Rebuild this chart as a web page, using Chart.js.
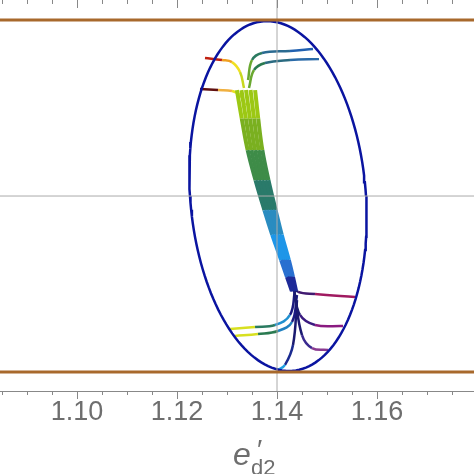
<!DOCTYPE html>
<html><head><meta charset="UTF-8">
<script src="https://cdn.jsdelivr.net/npm/chart.js@4.4.0/dist/chart.umd.min.js"></script>
<style>html,body{margin:0;background:#fff}#c{width:474px;height:474px}</style>
</head><body>
<div id="c"><canvas id="chart"></canvas></div>
<script>
// ---- data ----
const xRange = [1.0846, 1.1794];
const yRange = [-1.108, 1.114];
const xTickLabels = [1.10, 1.12, 1.14, 1.16];
const boundLevels = [1, -1];
const crossX = 1.14, crossY = 0;

const branchTopA = { x: [1.1256, 1.1290, 1.1310, 1.1326, 1.1334], y: [0.784, 0.773, 0.761, 0.705, 0.614] };
const branchTopB = { x: [1.1246, 1.1282, 1.1310, 1.1326, 1.1336], y: [0.608, 0.602, 0.597, 0.574, 0.517] };
const branchTopC = { x: [1.1472, 1.1426, 1.1370, 1.1350, 1.1342], y: [0.835, 0.824, 0.813, 0.773, 0.659] };
const branchTopD = { x: [1.1484, 1.1426, 1.1376, 1.1354, 1.1344], y: [0.778, 0.773, 0.756, 0.716, 0.614] };
const bandX = [1.1338, 1.1346, 1.1356, 1.1370, 1.1386, 1.1400, 1.1416, 1.1426, 1.1434];
const bandY = [0.602, 0.440, 0.261, 0.090, -0.080, -0.220, -0.364, -0.460, -0.540];
const branchBotE = { x: [1.1430, 1.1442, 1.1476, 1.1556], y: [-0.506, -0.545, -0.557, -0.574] };
const branchBotF = { x: [1.1434, 1.1446, 1.1476, 1.1532], y: [-0.534, -0.676, -0.733, -0.739] };
const branchBotG = { x: [1.1436, 1.1450, 1.1470, 1.1502], y: [-0.563, -0.790, -0.864, -0.875] };
const branchBotH = { x: [1.1436, 1.1426, 1.1396, 1.1356, 1.1306], y: [-0.534, -0.676, -0.733, -0.744, -0.756] };
const branchBotI = { x: [1.1440, 1.1430, 1.1402, 1.1362, 1.1316], y: [-0.563, -0.716, -0.767, -0.784, -0.795] };
const branchBotJ = { x: [1.1440, 1.1432, 1.1416, 1.1402], y: [-0.591, -0.847, -0.960, -0.989] };
// ellipse: centre, semi-axes, shear (data units)
const ell = { cx: 1.1402, cy: 0, a: 0.0176, b: 0.994, shear: 0.0022 };

const pts = s => s.x.map((v, i) => ({ x: v, y: s.y[i] }));
const grad = (s, colors, w) => ({
  data: pts(s), borderWidth: w || 2.5, pointRadius: 0, tension: 0.4, borderColor: colors[0],
  segment: { borderColor: c => colors[Math.min(c.p0DataIndex, colors.length - 1)] }
});

const ellipsePts = [];
for (let i = 0; i <= 160; i++) {
  const t = i / 160 * 2 * Math.PI;
  ellipsePts.push({ x: ell.cx + ell.a * Math.cos(t) - ell.shear * Math.sin(t), y: ell.cy + ell.b * Math.sin(t) });
}

const bandColors = ['#9cc814', '#7ab020', '#3e8c48', '#2a7a6a', '#2a8cc0', '#1e96e8', '#2a70d0', '#1e2a98', '#1a1a80'];
const datasets = [
  { data: [{x: xRange[0], y: boundLevels[0]}, {x: xRange[1], y: boundLevels[0]}], borderColor: '#a8692c', borderWidth: 3, pointRadius: 0 },
  { data: [{x: xRange[0], y: boundLevels[1]}, {x: xRange[1], y: boundLevels[1]}], borderColor: '#a8692c', borderWidth: 3, pointRadius: 0 },
  { data: [{x: xRange[0], y: crossY}, {x: xRange[1], y: crossY}], borderColor: '#aaaaaa', borderWidth: 1, pointRadius: 0 },
  { data: [{x: crossX, y: yRange[0]}, {x: crossX, y: yRange[1]}], borderColor: '#aaaaaa', borderWidth: 1, pointRadius: 0 },
  { data: ellipsePts, borderColor: '#0a14a0', borderWidth: 2.5, pointRadius: 0 }
];
[-0.0014, -0.0007, 0, 0.0007, 0.0014].forEach((off, k) => {
  const taper = bandY.map((v, i) => off * (1 - i / (bandY.length - 1)) * 1.0 + off * 0.3);
  datasets.push(grad({ x: bandX.map((v, i) => v + taper[i]), y: bandY }, bandColors, 4));
});
datasets.push(
  grad(branchTopA, ['#c02010', '#f0a020', '#f0e020', '#c8d820']),
  grad(branchTopB, ['#601010', '#f0b040', '#e8e020', '#b8d020']),
  grad(branchTopC, ['#2060b0', '#2a6a90', '#2a7a60', '#6aa830']),
  grad(branchTopD, ['#2a6aa8', '#2a6a80', '#2a7a50', '#6aa830']),
  grad(branchBotE, ['#1a1a70', '#401a70', '#a01a60', '#e8204a']),
  grad(branchBotF, ['#1a1a70', '#3a1a80', '#8a1a80', '#e02060']),
  grad(branchBotG, ['#1a1a70', '#3a2a90', '#8a3a90', '#c03a90']),
  grad(branchBotH, ['#1a1a80', '#2090d0', '#2a7a60', '#d8e020']),
  grad(branchBotI, ['#1a1a80', '#2080c0', '#2a7a50', '#d8e020']),
  grad(branchBotJ, ['#1a1a70', '#1a2a90', '#20a0e0'])
);

const axisPlugin = {
  id: 'axisPlugin',
  afterDraw(chart) {
    const { ctx, chartArea: a, scales: { x } } = chart;
    ctx.save();
    ctx.strokeStyle = '#888'; ctx.lineWidth = 1;
    ctx.beginPath(); ctx.moveTo(a.left, a.bottom + 0.5); ctx.lineTo(a.right, a.bottom + 0.5); ctx.stroke();
    for (let v = 1.085; v <= 1.18; v += 0.005) {
      const px = Math.round(x.getPixelForValue(v)) + 0.5;
      const major = Math.abs(Math.round(v * 50) - v * 50) < 1e-6;
      const len = major ? 8 : 4;
      ctx.beginPath();
      ctx.moveTo(px, a.bottom); ctx.lineTo(px, a.bottom + len);
      ctx.moveTo(px, a.top); ctx.lineTo(px, a.top + len);
      ctx.stroke();
    }
    ctx.fillStyle = '#6e6e6e';
    ctx.font = '27px "Liberation Sans"';
    ctx.textAlign = 'center'; ctx.textBaseline = 'middle';
    xTickLabels.forEach(v => ctx.fillText(v.toFixed(2), x.getPixelForValue(v), a.bottom + 22));
    const cx = x.getPixelForValue(1.14);
    ctx.font = 'italic 32px "Liberation Sans"';
    ctx.textAlign = 'left';
    ctx.fillText('e', cx - 44, a.bottom + 65);
    ctx.font = '28px "Liberation Sans"';
    ctx.fillText('\u2032', cx - 20, a.bottom + 60);
    ctx.font = '22px "Liberation Sans"';
    ctx.fillText('d2', cx - 26, a.bottom + 78);
    ctx.restore();
  }
};

new Chart(document.getElementById('chart'), {
  type: 'line',
  data: { datasets },
  options: {
    responsive: true, maintainAspectRatio: false, animation: false,
    layout: { padding: { left: 0, right: 0, top: 0, bottom: 83 } },
    plugins: { legend: { display: false }, tooltip: { enabled: false } },
    scales: {
      x: { type: 'linear', min: xRange[0], max: xRange[1], display: false },
      y: { type: 'linear', min: yRange[0], max: yRange[1], display: false }
    }
  },
  plugins: [axisPlugin]
});
</script>
</body></html>
